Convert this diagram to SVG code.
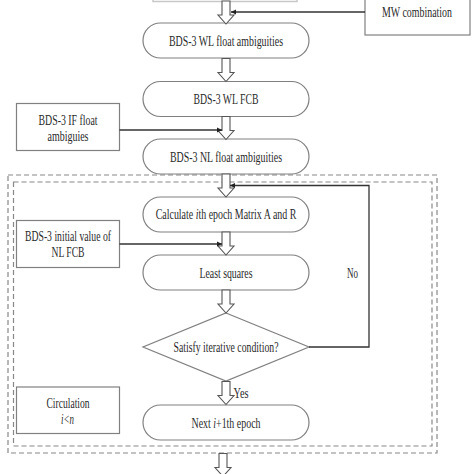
<svg xmlns="http://www.w3.org/2000/svg" width="474" height="474" viewBox="0 0 474 474">
<defs>
<style>
.t{font-family:"Liberation Serif","Times New Roman",serif;font-size:13.8px;fill:#2a2a2a;text-anchor:middle}
.it{font-style:italic}
.box{fill:#fff;stroke:#808080;stroke-width:1.2}
.rbox{fill:#fff;stroke:#808080;stroke-width:1.2}
.ha{fill:#fff;stroke:#555;stroke-width:1.1}
.ln{fill:none;stroke:#333;stroke-width:1.3}
.dash{fill:none;stroke:#888;stroke-width:1.2;stroke-dasharray:5 3}
</style>
<marker id="ah" markerWidth="6" markerHeight="6" refX="5" refY="3" orient="auto" markerUnits="userSpaceOnUse">
<path d="M0,0.5 L5,3 L0,5.5 Z" fill="#222"/>
</marker>
<path id="harrow" d="M-4,0 H4 V14 H8 L0,23 L-8,14 H-4 Z"/>
</defs>

<g id="frame">
<rect class="dash" x="8" y="175" width="429" height="278"/>
<rect class="dash" x="13.5" y="182" width="418.5" height="264"/>
</g>

<g id="top-box"><rect x="153" y="-10" width="144" height="11.5" fill="#fff" stroke="#c8c8c8" stroke-width="1.5"/></g>

<g id="mw"><rect class="box" x="365" y="-10" width="105" height="45"/>
<text class="t" x="417" y="16.5" textLength="70" lengthAdjust="spacingAndGlyphs">MW combination</text></g>

<g id="wl-float"><rect class="rbox" x="143" y="23" width="166" height="35" rx="17.5"/>
<text class="t" x="226" y="45.5" textLength="114" lengthAdjust="spacingAndGlyphs">BDS-3 WL float ambiguities</text></g>

<g id="wl-fcb"><rect class="rbox" x="143" y="81.5" width="166" height="35" rx="17.5"/>
<text class="t" x="226" y="103.5" textLength="65" lengthAdjust="spacingAndGlyphs">BDS-3 WL FCB</text></g>

<g id="if-float"><rect class="box" x="16.5" y="103.5" width="103" height="47"/>
<text class="t" x="68" y="124.5" textLength="59" lengthAdjust="spacingAndGlyphs">BDS-3 IF float</text>
<text class="t" x="68" y="140.5" textLength="41" lengthAdjust="spacingAndGlyphs">ambiguies</text></g>

<g id="nl-float"><rect class="rbox" x="143" y="139" width="166" height="35" rx="17.5"/>
<text class="t" x="226" y="161.5" textLength="112" lengthAdjust="spacingAndGlyphs">BDS-3 NL float ambiguities</text></g>

<g id="calc"><rect class="rbox" x="143" y="197" width="166" height="35" rx="17.5"/>
<text class="t" transform="translate(226,218.5) scale(0.72,1)" x="0" y="0">Calculate <tspan class="it">i</tspan>th epoch Matrix A and R</text></g>

<g id="init-nl"><rect class="box" x="16.5" y="220.5" width="103" height="47"/>
<text class="t" x="68" y="240.5" textLength="86" lengthAdjust="spacingAndGlyphs">BDS-3 initial value of</text>
<text class="t" x="68" y="256.5" textLength="33" lengthAdjust="spacingAndGlyphs">NL FCB</text></g>

<g id="lsq"><rect class="rbox" x="143" y="255" width="166" height="35" rx="17.5"/>
<text class="t" x="226" y="277.5" textLength="53" lengthAdjust="spacingAndGlyphs">Least squares</text></g>

<g id="cond"><path class="rbox" d="M226,313 L309,347 L226,381 L143,347 Z"/>
<text class="t" x="226" y="351.5" textLength="105" lengthAdjust="spacingAndGlyphs">Satisfy iterative condition?</text></g>

<g id="next"><rect class="rbox" x="143" y="405" width="166" height="35" rx="17.5"/>
<text class="t" transform="translate(226,427.5) scale(0.72,1)" x="0" y="0">Next <tspan class="it">i</tspan>+1th epoch</text></g>

<g id="circ"><rect class="box" x="16.5" y="387" width="103" height="46.5"/>
<text class="t" x="68" y="407.5" textLength="43" lengthAdjust="spacingAndGlyphs">Circulation</text>
<text class="t it" x="67.5" y="423.5" textLength="13" lengthAdjust="spacingAndGlyphs">i&lt;n</text></g>

<g id="connectors">
<use href="#harrow" class="ha" x="226" y="1"/>
<use href="#harrow" class="ha" x="226" y="58.5"/>
<use href="#harrow" class="ha" x="226" y="116.5"/>
<use href="#harrow" class="ha" x="226" y="174"/>
<use href="#harrow" class="ha" x="226" y="232"/>
<use href="#harrow" class="ha" x="226" y="290"/>
<use href="#harrow" class="ha" x="226" y="381.5"/>
<use href="#harrow" class="ha" x="223" y="453.5"/>
<path class="ln" d="M365,12 H231" marker-end="url(#ah)"/>
<path class="ln" d="M119.5,130 H222" marker-end="url(#ah)"/>
<path class="ln" d="M119.5,244 H222" marker-end="url(#ah)"/>
<path class="ln" d="M309,347 H369 V185.5 H230" marker-end="url(#ah)"/>
<text class="t" x="352.5" y="277.5" textLength="11" lengthAdjust="spacingAndGlyphs">No</text>
<text class="t" x="241" y="397.5" textLength="15" lengthAdjust="spacingAndGlyphs">Yes</text>
</g>
</svg>
